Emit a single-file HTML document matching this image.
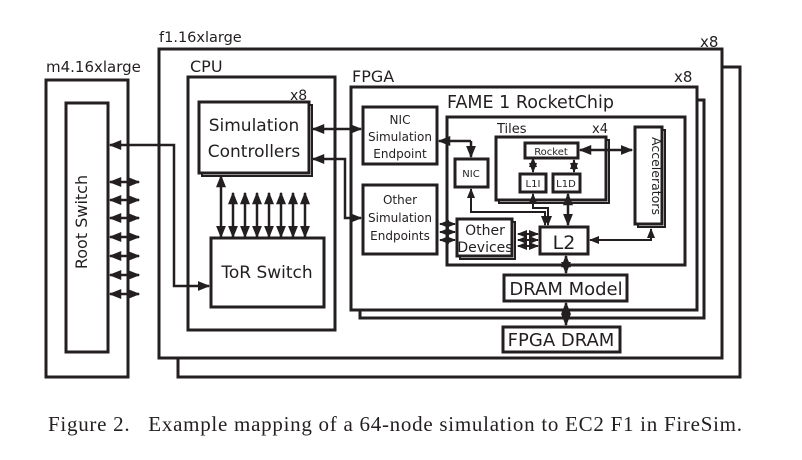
<!DOCTYPE html>
<html><head><meta charset="utf-8"><style>
html,body{margin:0;padding:0;background:#fff;}
svg{display:block;}
text{font-family:"DejaVu Sans","Liberation Sans",sans-serif;fill:#231f20;}
</style></head><body>
<svg width="802" height="460" viewBox="0 0 802 460" xmlns="http://www.w3.org/2000/svg">
<defs>
<marker id="a" viewBox="0 0 10 10" refX="9" refY="5" markerWidth="5" markerHeight="5" orient="auto-start-reverse"><path d="M0,1 L10,5 L0,9 z" fill="#231f20"/></marker>
</defs>
<g fill="#fff" stroke="#231f20" stroke-width="3">
<rect x="46" y="80" width="82" height="297"/>
<rect x="66" y="103" width="42" height="249"/>
<rect x="178" y="67" width="562" height="310"/>
<rect x="159" y="49" width="563" height="309"/>
<rect x="188" y="77" width="147" height="253"/>
<rect x="202" y="105" width="110" height="71" stroke-width="2"/>
<rect x="199" y="102" width="110" height="71"/>
<rect x="211" y="238" width="113" height="69"/>
<rect x="360" y="100" width="344" height="218"/>
<rect x="351" y="87" width="346" height="223"/>
<rect x="363" y="107" width="74" height="57"/>
<rect x="363" y="185" width="74" height="69"/>
<rect x="447" y="117" width="238" height="148"/>
<rect x="499" y="140" width="110" height="63" stroke-width="2"/>
<rect x="496" y="137" width="110" height="63"/>
<rect x="525" y="143" width="53" height="15"/>
<rect x="520" y="174" width="26" height="18"/>
<rect x="553" y="174" width="27" height="18"/>
<rect x="455" y="159" width="33" height="28"/>
<rect x="638" y="130" width="27" height="97" stroke-width="2"/>
<rect x="635" y="127" width="27" height="97"/>
<rect x="460" y="222" width="55" height="37" stroke-width="2"/>
<rect x="457" y="219" width="55" height="37"/>
<rect x="540" y="227" width="48" height="27"/>
<rect x="504" y="275" width="123" height="26"/>
<rect x="503" y="327" width="117" height="25"/>
</g>
<g stroke="#231f20" stroke-width="2.5" fill="none" marker-end="url(#a)" marker-start="url(#a)">
<line x1="110" y1="182" x2="139" y2="182"/><line x1="110" y1="200" x2="139" y2="200"/>
<line x1="110" y1="218" x2="139" y2="218"/><line x1="110" y1="237" x2="139" y2="237"/>
<line x1="110" y1="256" x2="139" y2="256"/><line x1="110" y1="275" x2="139" y2="275"/>
<line x1="110" y1="294" x2="139" y2="294"/>
<line x1="221" y1="176" x2="221" y2="237"/>
<line x1="233" y1="193" x2="233" y2="237"/><line x1="245" y1="193" x2="245" y2="237"/>
<line x1="257" y1="193" x2="257" y2="237"/><line x1="269" y1="193" x2="269" y2="237"/>
<line x1="281" y1="193" x2="281" y2="237"/><line x1="293" y1="193" x2="293" y2="237"/>
<line x1="305" y1="193" x2="305" y2="237"/>
<line x1="313" y1="129" x2="361" y2="129"/>
<line x1="439" y1="141" x2="471" y2="141" marker-end="none"/>
<line x1="574" y1="160" x2="574" y2="172" stroke-width="2"/>
<line x1="580" y1="150" x2="632" y2="150"/>
<line x1="440" y1="224" x2="455" y2="224" stroke-width="2"/><line x1="440" y1="232" x2="455" y2="232" stroke-width="2"/><line x1="440" y1="240" x2="455" y2="240" stroke-width="2"/>
<line x1="518" y1="234" x2="538" y2="234" stroke-width="2"/><line x1="518" y1="240" x2="538" y2="240" stroke-width="2"/><line x1="518" y1="246" x2="538" y2="246" stroke-width="2"/>
<line x1="566" y1="256" x2="566" y2="273"/>
<line x1="566" y1="303" x2="566" y2="325"/>
</g>
<g stroke="#231f20" stroke-width="2.5" fill="none">
<polyline points="110,145 174,145 174,286 209,286" marker-start="url(#a)" marker-end="url(#a)"/>
<polyline points="313,159 345,159 345,218 361,218" marker-start="url(#a)" marker-end="url(#a)"/>
<polyline points="471,141 471,157" marker-end="url(#a)"/>
<line x1="533" y1="158" x2="533" y2="172" marker-start="url(#a)" marker-end="url(#a)" stroke-width="2"/>
<polyline points="533,194 533,208 548,208 548,225" marker-start="url(#a)" marker-end="url(#a)" stroke-width="2"/>
<polyline points="568,194 568,225" marker-start="url(#a)" marker-end="url(#a)"/>
<polyline points="471,189 471,212 545,212 545,225" marker-start="url(#a)" marker-end="url(#a)" stroke-width="2"/>
<polyline points="590,240 651,240 651,229" marker-start="url(#a)" marker-end="url(#a)" stroke-width="2"/>
</g>
<text x="46" y="72" font-size="15">m4.16xlarge</text>
<text x="159" y="42" font-size="14.5">f1.16xlarge</text>
<text x="700" y="47" font-size="15">x8</text>
<text x="190" y="72" font-size="16">CPU</text>
<text x="290" y="100" font-size="14">x8</text>
<text x="254" y="131" font-size="17" text-anchor="middle">Simulation</text>
<text x="254" y="157" font-size="17" text-anchor="middle">Controllers</text>
<text x="267" y="278" font-size="17" text-anchor="middle">ToR Switch</text>
<text x="93" y="228" font-size="16" text-anchor="middle" transform="rotate(-90 87 228)">Root Switch</text>
<text x="352" y="82" font-size="16">FPGA</text>
<text x="674" y="82" font-size="15">x8</text>
<text x="447" y="108" font-size="17.5">FAME 1 RocketChip</text>
<text x="400" y="124" font-size="12" text-anchor="middle">NIC</text>
<text x="400" y="141" font-size="12" text-anchor="middle">Simulation</text>
<text x="400" y="158" font-size="12" text-anchor="middle">Endpoint</text>
<text x="400" y="204" font-size="12" text-anchor="middle">Other</text>
<text x="400" y="222" font-size="12" text-anchor="middle">Simulation</text>
<text x="400" y="240" font-size="12" text-anchor="middle">Endpoints</text>
<text x="497" y="133" font-size="13">Tiles</text>
<text x="592" y="133" font-size="13">x4</text>
<text x="551" y="155" font-size="10" text-anchor="middle">Rocket</text>
<text x="533" y="187" font-size="10" text-anchor="middle">L1I</text>
<text x="566" y="187" font-size="10" text-anchor="middle">L1D</text>
<text x="471" y="177" font-size="10" text-anchor="middle">NIC</text>
<text x="648" y="176" font-size="12.5" text-anchor="middle" transform="rotate(90 648 176)" dy="-4">Accelerators</text>
<text x="485" y="235" font-size="14" text-anchor="middle">Other</text>
<text x="485" y="252" font-size="14" text-anchor="middle">Devices</text>
<text x="564" y="249" font-size="19" text-anchor="middle">L2</text>
<text x="566" y="295" font-size="18" text-anchor="middle">DRAM Model</text>
<text x="561" y="346" font-size="18" text-anchor="middle">FPGA DRAM</text>
<text x="48" y="431" font-size="21" textLength="694" lengthAdjust="spacing" xml:space="preserve" style="font-family:'Liberation Serif',serif;white-space:pre">Figure 2.   Example mapping of a 64-node simulation to EC2 F1 in FireSim.</text>
</svg>
</body></html>
